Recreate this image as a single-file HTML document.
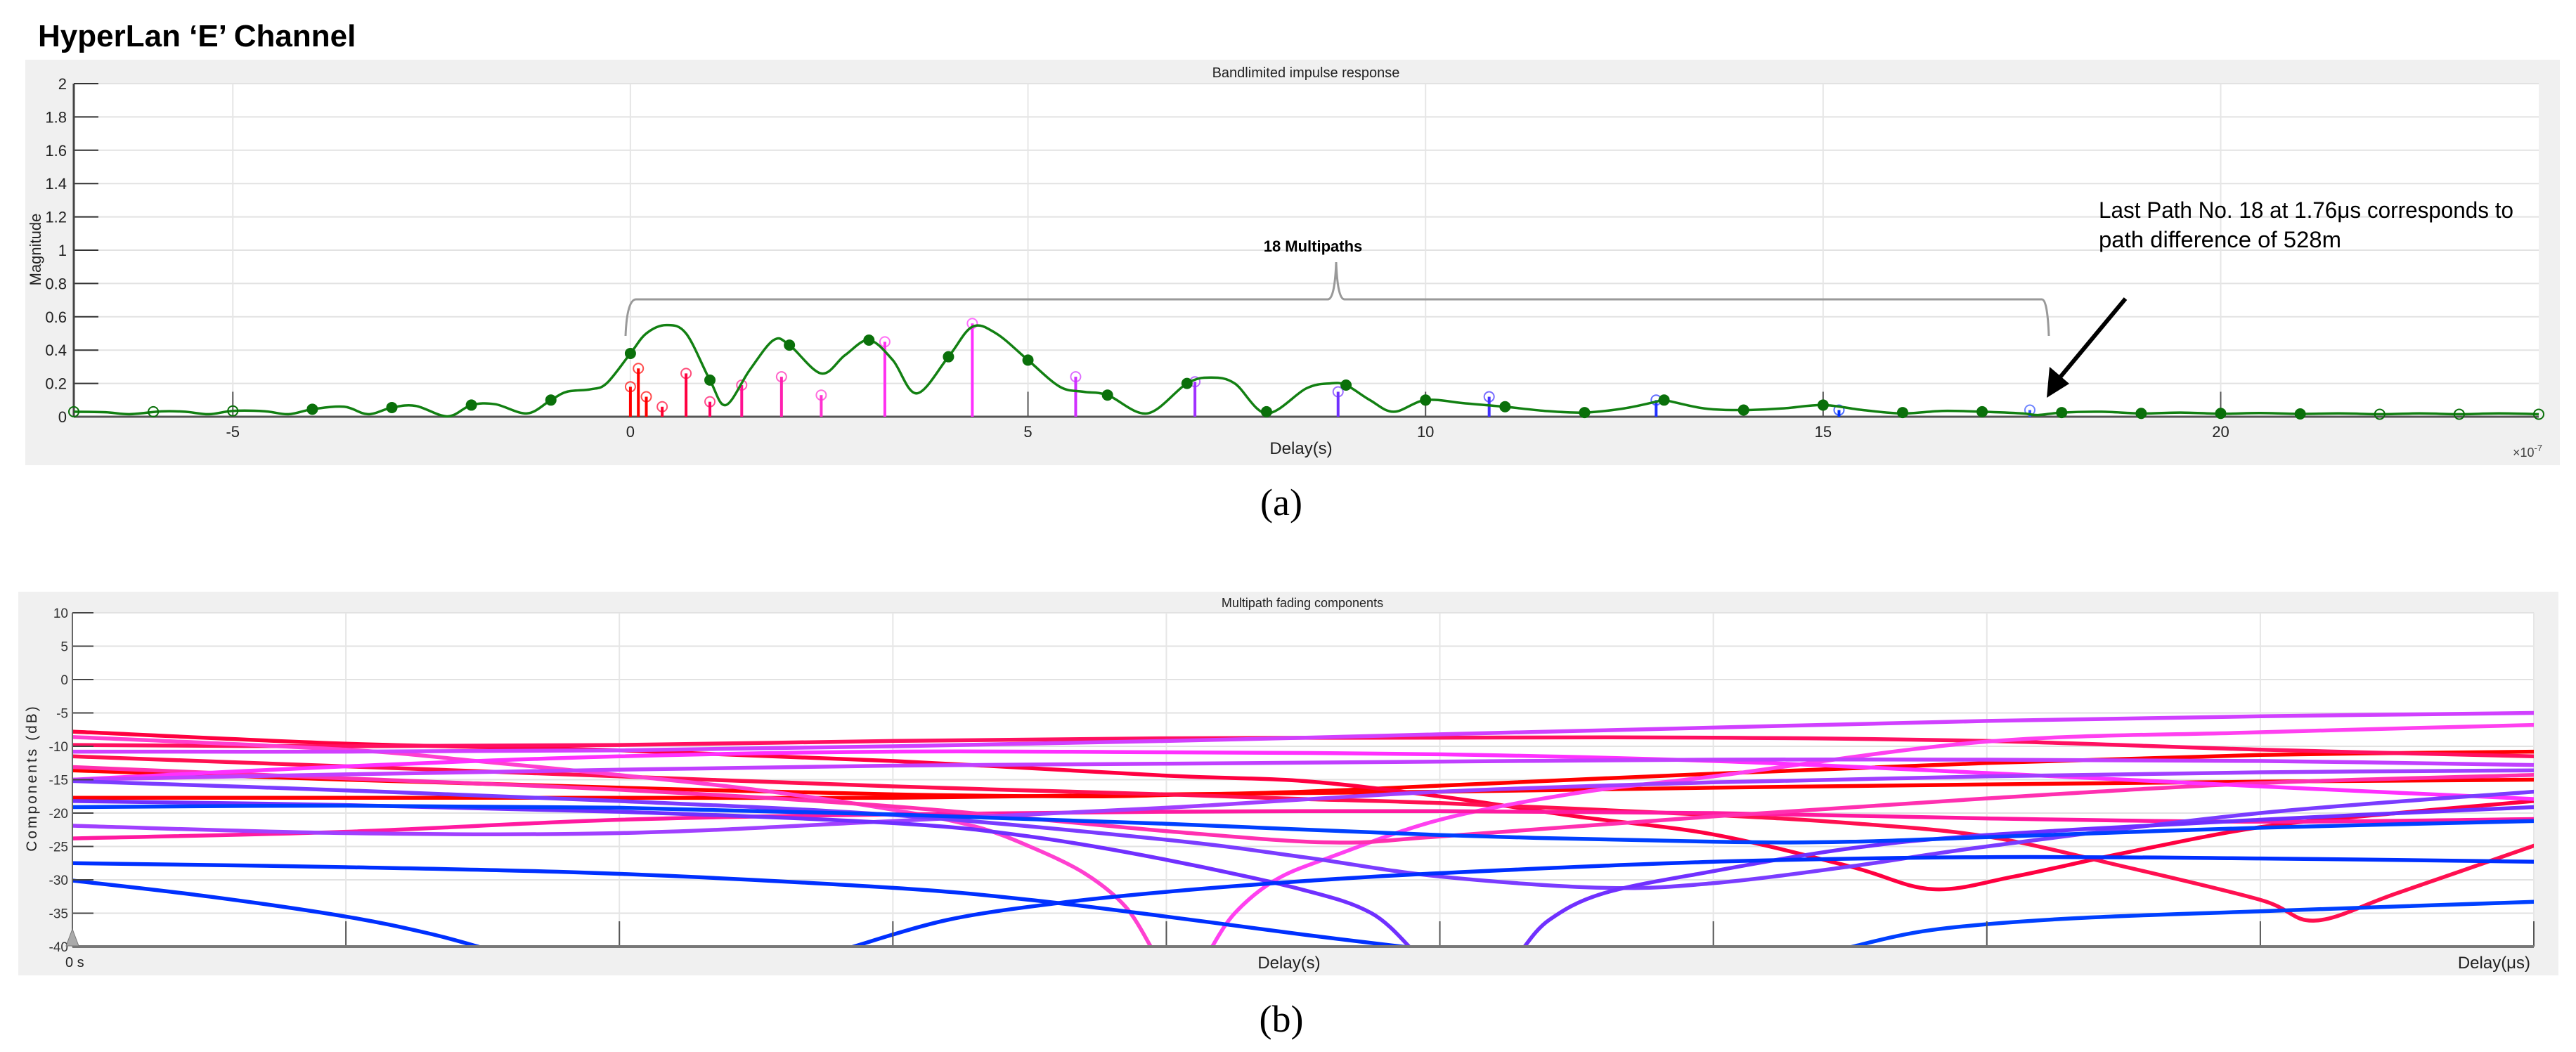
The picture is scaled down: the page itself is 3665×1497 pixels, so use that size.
<!DOCTYPE html>
<html><head><meta charset="utf-8"><style>
html,body{margin:0;padding:0;background:#fff;width:3665px;height:1497px;overflow:hidden}
svg{display:block}
text{font-family:"Liberation Sans Narrow","Liberation Sans",sans-serif}
</style></head><body>
<svg id="fig" xmlns="http://www.w3.org/2000/svg" width="3665" height="1497" viewBox="0 0 3665 1497">
<text x="54" y="66" font-size="44" font-weight="bold" fill="#000" style="font-family:'Liberation Sans Narrow','Liberation Sans',sans-serif">HyperLan ‘E’ Channel</text>
<rect x="36" y="85" width="3606" height="577" fill="#f0f0f0"/>
<rect x="105" y="119" width="3507" height="474" fill="#fff"/>
<text x="1858" y="110" font-size="20" text-anchor="middle" fill="#222">Bandlimited impulse response</text>
<g id="ga-grid"></g>
<g id="ga-axes"></g>
<text x="1851" y="646" font-size="24" text-anchor="middle" fill="#222">Delay(s)</text>
<text x="3575" y="650" font-size="18" fill="#444">×10<tspan dy="-8" font-size="13">-7</tspan></text>
<text transform="translate(58,355) rotate(-90)" font-size="22" text-anchor="middle" fill="#222" style="font-family:'Liberation Sans',sans-serif">Magnitude</text>
<g id="ga-series"></g>
<path d="M 890 478 Q 892 426 905 426 L 1889 426 Q 1899 426 1901 373 Q 1903 426 1913 426 L 2905 426 Q 2913 426 2915 478" fill="none" stroke="#999" stroke-width="3"/>
<text x="1868" y="358" font-size="22" font-weight="bold" text-anchor="middle" fill="#000">18 Multipaths</text>
<text x="2986" y="310" font-size="32" textLength="590" lengthAdjust="spacingAndGlyphs" fill="#000">Last Path No. 18 at 1.76μs corresponds to</text>
<text x="2986" y="352" font-size="32" textLength="345" lengthAdjust="spacingAndGlyphs" fill="#000">path difference of 528m</text>
<g>
<line x1="3024" y1="425" x2="2930" y2="538" stroke="#000" stroke-width="6"/>
<polygon points="2912,566 2916,522 2944,546" fill="#000"/>
</g>
<text x="1823" y="733" font-size="54" text-anchor="middle" fill="#000" style="font-family:'Liberation Serif',serif">(a)</text>

<rect x="26" y="842" width="3614" height="546" fill="#f0f0f0"/>
<rect x="103" y="872" width="3502" height="475" fill="#fff"/>
<text x="1853" y="864" font-size="18" text-anchor="middle" fill="#222">Multipath fading components</text>
<g id="gb-grid"></g>
<defs><clipPath id="clipb"><rect x="103" y="872" width="3502" height="475"/></clipPath></defs>
<g id="gb-series" clip-path="url(#clipb)"></g>
<g id="gb-axes"></g>
<text transform="translate(52,1107) rotate(-90)" font-size="21" text-anchor="middle" fill="#222" letter-spacing="3" style="font-family:'Liberation Sans',sans-serif">Components (dB)</text>
<text x="93" y="1376" font-size="20" fill="#222">0 s</text>
<text x="1834" y="1378" font-size="24" text-anchor="middle" fill="#222">Delay(s)</text>
<text x="3600" y="1378" font-size="24" text-anchor="end" fill="#222">Delay(μs)</text>
<polygon points="94,1346 112,1346 103,1322" fill="#aaa" stroke="#777"/>
<text x="1823" y="1468" font-size="54" text-anchor="middle" fill="#000" style="font-family:'Liberation Serif',serif">(b)</text>
</svg>
<script>
// ---------- Panel (a) data ----------
const aYTicks = [0,0.2,0.4,0.6,0.8,1,1.2,1.4,1.6,1.8,2];
const aYTickLabels = ["0","0.2","0.4","0.6","0.8","1","1.2","1.4","1.6","1.8","2"];
const aXTicks = [-5,0,5,10,15,20];
const aXTickLabels = ["-5","0","5","10","15","20"];
const aGrayMarks = [-5,5,10,15,20];
const curveX = [-7,-6.6,-6.3,-5.9,-5.6,-5.3,-5,-4.6,-4.3,-4,-3.6,-3.3,-3,-2.7,-2.3,-2,-1.7,-1.3,-1,-0.8,-0.5,-0.3,0,0.2,0.45,0.7,1,1.2,1.5,1.8,2,2.4,2.7,3,3.3,3.6,4,4.3,4.6,5,5.4,5.7,6,6.5,7,7.3,7.6,8,8.5,8.8,9,9.3,9.6,10,10.5,11,11.5,12,12.5,12.9,13,13.5,14,14.5,15,15.5,16,16.5,17,17.5,17.7,18,18.5,19,19.5,20,20.5,21,21.5,22,22.5,23,23.5,24];
const curveY = [.03,.027,.015,.032,.03,.015,.035,.033,.015,.045,.06,.015,.055,.065,.002,.07,.075,.02,.1,.15,.165,.2,.38,.5,.55,.5,.22,.07,.28,.46,.43,.26,.37,.46,.34,.14,.36,.54,.5,.34,.18,.15,.13,.02,.2,.235,.2,.02,.17,.2,.19,.1,.03,.1,.08,.06,.035,.025,.05,.09,.1,.05,.04,.05,.07,.04,.02,.035,.03,.02,.01,.025,.03,.02,.025,.018,.022,.017,.02,.015,.02,.015,.02,.015];
const dotX = [-7,-6,-5,-4,-3,-2,-1,0,1,2,3,4,5,6,7,8,9,10,11,12,13,14,15,16,17,18,19,20,21,22,23,24];
const dotY = [.03,.03,.035,.045,.055,.07,.1,.38,.22,.43,.46,.36,.34,.13,.2,.03,.19,.1,.06,.025,.1,.04,.07,.025,.03,.025,.02,.02,.017,.015,.015,.015];
const dotOpen = [1,1,1,0,0,0,0,0,0,0,0,0,0,0,0,0,0,0,0,0,0,0,0,0,0,0,0,0,0,1,1,1];
const stemDelay = [0,0.1,0.2,0.4,0.7,1.0,1.4,1.9,2.4,3.2,4.3,5.6,7.1,8.9,10.8,12.9,15.2,17.6];
const stemMag = [.18,.29,.12,.06,.26,.09,.19,.24,.13,.45,.56,.24,.21,.15,.12,.10,.04,.04];
const stemColor = ["#ff0000","#ff0000","#ff0000","#ff0030","#ff0040","#ff0060","#ff1090","#ff20b0","#ff30d0","#ff30f0","#ff30ff","#d030ff","#a030ff","#7030ff","#4030ff","#2030ff","#0030ff","#3050ff"];

// ---------- Panel (b) data ----------
const bYTicks = [10,5,0,-5,-10,-15,-20,-25,-30,-35,-40];
const bYTickLabels = ["10","5","0","-5","-10","-15","-20","-25","-30","-35","-40"];
const bXGrid = [1,2,3,4,5,6,7,8,9];
const bSeriesNames = ["R1","R2","R3","R4","R5","P1","P2","P3","P4","P5","V1","V2","V3","V4","V5a","V5b","B1","B2","B3","B4","B5"];
const bColors = ["#ff0000","#ff0000","#ff0040","#ff1050","#ff1060","#ff40d0","#ff40f0","#ff1aa0","#ff30b0","#ff30ff","#d040ff","#c040ff","#a040ff","#7a3cff","#7030ff","#7030ff","#0040ff","#0030ff","#0030ff","#0030ff","#0040ff"];
const sR1g = [0,1,2,3,3.7,4,4.5,5,6,7,8,9];
const sR1v = [-13.6,-15.0,-16.2,-17.2,-17.5,-17.3,-16.8,-15.9,-14.1,-12.5,-11.3,-10.8];
const sR2g = [0,1,2,3,4,5,6,7,8,9];
const sR2v = [-17.7,-17.7,-17.7,-17.7,-17.2,-16.8,-16.2,-15.7,-15.3,-15.0];
const sR3g = [0,1,2,3,4,4.5,5,5.5,6,6.5,6.8,7.1,7.5,8,8.5,9];
const sR3v = [-7.8,-9.6,-10.6,-12.2,-14.4,-15.2,-17.5,-20.5,-23.2,-28,-31.4,-29.5,-26,-22.1,-20,-18.2];
const sR4g = [0,1,2,3,4,4.5,5,6,6.5,7,7.5,8,8.2,8.5,9];
const sR4v = [-11.5,-13,-14.5,-16,-17.2,-17.9,-18.5,-20.3,-21.5,-23.5,-28,-33,-36.1,-32,-24.9];
const sR5g = [0,1,2,3,4,5,6,7,8,9];
const sR5v = [-9.8,-10.0,-9.8,-9.2,-8.8,-8.7,-8.7,-9.2,-10.5,-11.5];
const sP1g = [0,1,1.5,2,2.5,3,3.3,3.5,3.7,3.85,3.95];
const sP1v = [-8.6,-10.5,-12.3,-14.3,-16.5,-19.5,-22,-25,-29,-34,-40.5];
const sP2g = [4.16,4.25,4.4,4.6,5,5.5,6,7,8,9];
const sP2v = [-40.5,-35,-30,-26.6,-21,-17,-14.5,-9.3,-7.9,-6.8];
const sP3g = [0,1,2,3,4,5,6,7,8,9];
const sP3v = [-23.8,-22.8,-21,-20.2,-19.8,-19.7,-20.0,-20.8,-21.3,-20.9];
const sP4g = [0,1,2,3,4,4.6,5,6,7,8,9];
const sP4v = [-13.1,-14.8,-16.5,-19,-22.7,-24.4,-23.5,-20.5,-17.8,-15.5,-14.3];
const sP5g = [0,1,2,3,4,5,6,7,8,9];
const sP5v = [-15,-13,-11.5,-10.8,-10.9,-11.2,-12.2,-14,-16,-17.9];
const sV1g = [0,1,2,3,4,5,6,7,8,9];
const sV1v = [-10.8,-10.8,-10.6,-10,-9.2,-8.2,-7.2,-6.2,-5.5,-5.0];
const sV2g = [0,1,2,3,4,5,6,7,8,9];
const sV2v = [-15.0,-14.2,-13.5,-12.9,-12.6,-12.3,-12.0,-12.0,-12.2,-12.8];
const sV3g = [0,1,2,3,4,5,6,7,8,9];
const sV3v = [-21.9,-23.0,-23.0,-21.2,-19.2,-16.8,-15.4,-14.5,-13.9,-13.6];
const sV4g = [0,1,2,3,4,4.5,5,5.6,6,6.5,7,8,9];
const sV4v = [-15.2,-16.6,-18.2,-20.3,-24,-26.6,-29.5,-31.2,-30.5,-28,-25,-20,-16.8];
const sV5ag = [0,1,2,3,3.5,4,4.5,4.75,4.9];
const sV5av = [-18.2,-18.8,-19.8,-21.5,-23.5,-27,-31.5,-35,-40.5];
const sV5bg = [5.3,5.4,5.6,6,6.5,7,8,9];
const sV5bv = [-40.5,-36,-32,-28.7,-25.3,-23.3,-21,-19.1];
const sB1g = [0,1,2,3,4,5,6,6.5,7,8,9];
const sB1v = [-19.1,-18.9,-19.2,-20.2,-21.6,-23.3,-24.3,-24.3,-23.6,-22.2,-21.2];
const sB2g = [0,1,2,3,3.5,4,4.5,4.9];
const sB2v = [-27.5,-28.1,-29.1,-31.2,-33,-35.5,-38.2,-40.2];
const sB3g = [0,0.5,1,1.3,1.5];
const sB3v = [-30.1,-32.5,-35.5,-38,-40.2];
const sB4g = [2.84,3.2,3.6,4,4.5,5,6,7,8,9];
const sB4v = [-40.2,-36,-33.5,-31.8,-30.2,-29,-27.3,-26.6,-26.8,-27.3];
const sB5g = [6.49,6.8,7.3,8,9];
const sB5v = [-40.2,-37.5,-35.8,-34.7,-33.3];
const bSeriesG = [sR1g,sR2g,sR3g,sR4g,sR5g,sP1g,sP2g,sP3g,sP4g,sP5g,sV1g,sV2g,sV3g,sV4g,sV5ag,sV5bg,sB1g,sB2g,sB3g,sB4g,sB5g];
const sSeriesV = [sR1v,sR2v,sR3v,sR4v,sR5v,sP1v,sP2v,sP3v,sP4v,sP5v,sV1v,sV2v,sV3v,sV4v,sV5av,sV5bv,sB1v,sB2v,sB3v,sB4v,sB5v];

const NS = "http://www.w3.org/2000/svg";
function mk(tag, attrs, parent){const e=document.createElementNS(NS,tag);for(const k in attrs)e.setAttribute(k,attrs[k]);parent.appendChild(e);return e;}
function smoothPath(pts){
  let d="M "+pts[0][0].toFixed(1)+" "+pts[0][1].toFixed(1);
  for(let i=0;i<pts.length-1;i++){
    const p0=pts[i-1]||pts[i],p1=pts[i],p2=pts[i+1],p3=pts[i+2]||p2;
    const c1x=p1[0]+(p2[0]-p0[0])/6,c1y=p1[1]+(p2[1]-p0[1])/6;
    const c2x=p2[0]-(p3[0]-p1[0])/6,c2y=p2[1]-(p3[1]-p1[1])/6;
    d+=" C "+c1x.toFixed(1)+" "+c1y.toFixed(1)+" "+c2x.toFixed(1)+" "+c2y.toFixed(1)+" "+p2[0].toFixed(1)+" "+p2[1].toFixed(1);
  }
  return d;
}

const aX0=105,aX1=3612,aY0=593,aY1=119,aXmin=-7,aXmax=24,aYmin=0,aYmax=2;
function ax(v){return aX0+(v-aXmin)/(aXmax-aXmin)*(aX1-aX0);}
function ay(v){return aY0-(v-aYmin)/(aYmax-aYmin)*(aY0-aY1);}

const gaGrid=document.getElementById('ga-grid');
const gaAxes=document.getElementById('ga-axes');
const gaSeries=document.getElementById('ga-series');
aYTicks.forEach((t,i)=>{
  const gl=mk('line',{x1:aX0,x2:aX1,y1:ay(t),y2:ay(t),stroke:'#e2e2e2','stroke-width':2},gaGrid);
  
  
  const tk=mk('line',{x1:aX0,x2:aX0+35,y1:ay(t),y2:ay(t),stroke:'#333','stroke-width':2},gaAxes);
  
  
  const tl=mk('text',{x:aX0-10,y:ay(t)+8,'font-size':22,'text-anchor':'end',fill:'#222'},gaAxes);
  tl.textContent=aYTickLabels[i];
  
  
});
aXTicks.forEach((t,i)=>{
  const gl=mk('line',{x1:ax(t),x2:ax(t),y1:aY1,y2:aY0,stroke:'#e6e6e6','stroke-width':2},gaGrid);
  
  
  const tl=mk('text',{x:ax(t),y:622,'font-size':22,'text-anchor':'middle',fill:'#222'},gaAxes);
  tl.textContent=aXTickLabels[i];
  
  
});
aGrayMarks.forEach(t=>{
  const m=mk('line',{x1:ax(t),x2:ax(t),y1:ay(0),y2:ay(0.15),stroke:'#555','stroke-width':2},gaGrid);
  
  
});
const axL=mk('line',{x1:aX0,x2:aX0,y1:aY1,y2:aY0,stroke:'#444','stroke-width':3},gaAxes);


const axB=mk('line',{x1:aX0,x2:aX1,y1:aY0,y2:aY0,stroke:'#555','stroke-width':3},gaAxes);



stemDelay.forEach((d,i)=>{
  const s=mk('line',{x1:ax(d),x2:ax(d),y1:ay(0),y2:ay(stemMag[i]),stroke:stemColor[i],'stroke-width':4},gaSeries);
  
  
  const c=mk('circle',{cx:ax(d),cy:ay(stemMag[i]),r:7,fill:'none',stroke:stemColor[i],'stroke-width':2,opacity:0.7},gaSeries);
  
  
});
const cpts=curveX.map((x,i)=>[ax(x),ay(curveY[i])]);
const gp=mk('path',{d:smoothPath(cpts),fill:'none',stroke:'#128012','stroke-width':3.5},gaSeries);


dotX.forEach((x,i)=>{
  const open=dotOpen[i]===1;
  const c=mk('circle',{cx:ax(x),cy:ay(dotY[i]),r:7,fill:open?'none':'#0a700a',stroke:'#0a700a','stroke-width':2},gaSeries);
  
  
});

const bX0=103,bX1=3605,bY0=1347,bY1=872,bGmax=9,bYmin=-40,bYmax=10;
function bx(g){return bX0+g/bGmax*(bX1-bX0);}
function by(v){return bY0-(v-bYmin)/(bYmax-bYmin)*(bY0-bY1);}
const gbGrid=document.getElementById('gb-grid');
const gbAxes=document.getElementById('gb-axes');
const gbSeries=document.getElementById('gb-series');
bYTicks.forEach((t,i)=>{
  const gl=mk('line',{x1:bX0,x2:bX1,y1:by(t),y2:by(t),stroke:'#e2e2e2','stroke-width':2},gbGrid);
  
  
  const tk=mk('line',{x1:bX0,x2:bX0+30,y1:by(t),y2:by(t),stroke:'#444','stroke-width':2},gbAxes);
  
  
  const tl=mk('text',{x:bX0-6,y:by(t)+7,'font-size':19,'text-anchor':'end',fill:'#333'},gbAxes);
  tl.textContent=bYTickLabels[i];
  
  
});
bXGrid.forEach(g=>{
  const gl=mk('line',{x1:bx(g),x2:bx(g),y1:bY1,y2:bY0,stroke:'#e6e6e6','stroke-width':2},gbGrid);
  
  
  const tk=mk('line',{x1:bx(g),x2:bx(g),y1:bY0-36,y2:bY0,stroke:'#555','stroke-width':2},gbAxes);
  
  
});
const bl=mk('line',{x1:bX0,x2:bX0,y1:bY1,y2:bY0,stroke:'#666','stroke-width':2},gbAxes);


const bb=mk('line',{x1:bX0,x2:bX1,y1:bY0,y2:bY0,stroke:'#777','stroke-width':4},gbAxes);


bSeriesG.forEach((gs,i)=>{
  const vs=sSeriesV[i];
  const pts=gs.map((g,j)=>[bx(g),by(vs[j])]);
  const p=mk('path',{d:smoothPath(pts),fill:'none',stroke:bColors[i],'stroke-width':5.5,'stroke-linecap':'round'},gbSeries);
  
  
});
</script>
</body></html>
